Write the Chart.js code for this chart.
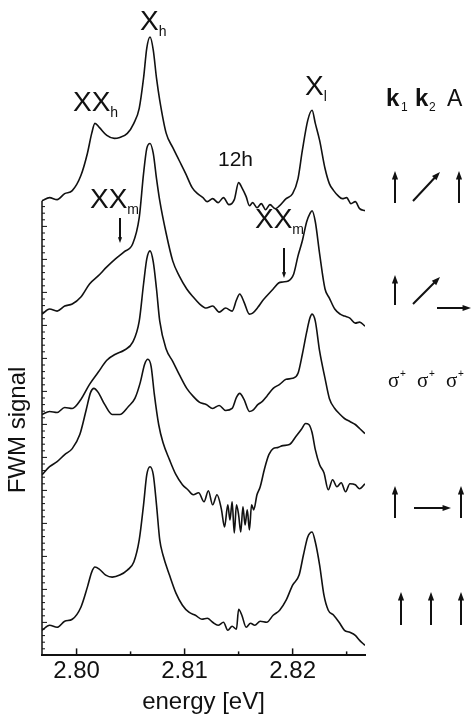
<!DOCTYPE html>
<html>
<head>
<meta charset="utf-8">
<script src="https://cdn.jsdelivr.net/npm/chart.js@4.4.0/dist/chart.umd.min.js"></script>
<style>
  html, body { margin: 0; padding: 0; background: #fff; }
  #wrap { width: 474px; height: 717px; position: relative; }
</style>
</head>
<body>
<div id="wrap"><canvas id="fwm"></canvas></div>
<script>
// energy axis [eV] and tick labels
var xTicks = [2.80, 2.81, 2.82];

// spectra, top to bottom (offset traces, arbitrary units)
var eTop = [2.7968,2.7975,2.7982,2.7989,2.7996,2.8004,2.8010,2.8014,2.8017,2.8021,2.8028,2.8035,2.8040,2.8047,2.8053,2.8058,2.8062,2.8065,2.8068,2.8071,2.8074,2.8077,2.8083,2.8089,2.8095,2.8101,2.8107,2.8112,2.8117,2.8121,2.8126,2.8131,2.8136,2.8141,2.8146,2.8150,2.8153,2.8157,2.8160,2.8163,2.8167,2.8171,2.8175,2.8179,2.8184,2.8188,2.8194,2.8200,2.8205,2.8209,2.8214,2.8218,2.8221,2.8225,2.8230,2.8234,2.8238,2.8242,2.8246,2.8250,2.8254,2.8258,2.8262,2.8267];
var sTop = [453,456,454,460,463,478,500,520,530,526,518,515,516,520,530,545,575,605,616,603,575,553,520,506,493,480,466,460,456,452,455,451,456,449,454,471,466,457,448,451,446,450,444,449,445,448,455,460,475,503,533,543,530,513,485,470,463,458,455,456,450,452,445,443];

var eM = [2.7968,2.7975,2.7982,2.7989,2.7996,2.8004,2.8012,2.8020,2.8028,2.8036,2.8044,2.8052,2.8058,2.8062,2.8065,2.8068,2.8071,2.8074,2.8077,2.8083,2.8089,2.8095,2.8102,2.8108,2.8114,2.8120,2.8126,2.8132,2.8138,2.8144,2.8148,2.8151,2.8155,2.8160,2.8163,2.8168,2.8172,2.8176,2.8182,2.8187,2.8191,2.8196,2.8201,2.8205,2.8209,2.8213,2.8216,2.8218,2.8221,2.8225,2.8230,2.8234,2.8239,2.8244,2.8248,2.8253,2.8258,2.8262,2.8267];
var sM = [340,345,343,348,350,357,370,378,387,395,402,410,436,480,505,510,500,475,453,420,393,378,365,357,350,346,348,342,346,343,354,360,352,340,341,347,353,358,365,371,372,373,380,398,413,432,440,443,432,400,365,356,345,340,338,336,331,332,328];

var eS = [2.7968,2.7975,2.7982,2.7989,2.7996,2.8004,2.8012,2.8020,2.8028,2.8036,2.8044,2.8052,2.8058,2.8062,2.8065,2.8068,2.8071,2.8074,2.8077,2.8083,2.8089,2.8095,2.8102,2.8108,2.8114,2.8120,2.8126,2.8132,2.8138,2.8144,2.8148,2.8151,2.8155,2.8160,2.8163,2.8168,2.8172,2.8176,2.8182,2.8188,2.8194,2.8200,2.8205,2.8209,2.8213,2.8216,2.8218,2.8221,2.8225,2.8230,2.8234,2.8239,2.8244,2.8248,2.8253,2.8258,2.8262,2.8267];
var sS = [240,243,242,247,246,255,270,282,294,300,304,312,333,370,395,403,392,365,333,305,293,280,266,258,252,250,246,249,244,246,257,261,255,243,244,250,253,258,266,270,275,276,281,300,322,336,340,333,303,276,256,246,240,236,233,230,226,221];

var eC = [2.7968,2.7975,2.7982,2.7989,2.7996,2.8003,2.8009,2.8013,2.8016,2.8020,2.8026,2.8033,2.8040,2.8048,2.8054,2.8059,2.8063,2.8066,2.8069,2.8072,2.8076,2.8080,2.8086,2.8092,2.8098,2.8103,2.8108,2.8113,2.8118,2.8122,2.8126,2.8130,2.8134,2.8137,2.8140,2.8142,2.8144,2.8146,2.8148,2.8150,2.8152,2.8154,2.8156,2.8158,2.8160,2.8162,2.8164,2.8167,2.8170,2.8174,2.8178,2.8182,2.8186,2.8191,2.8197,2.8203,2.8208,2.8212,2.8215,2.8218,2.8221,2.8225,2.8229,2.8233,2.8237,2.8241,2.8245,2.8249,2.8253,2.8258,2.8262,2.8267];
var sC = [180,188,193,200,206,220,245,262,266,262,250,240,240,248,256,272,290,295,288,260,230,212,195,180,170,165,160,162,153,164,150,160,146,128,150,135,153,122,150,140,123,148,130,145,125,150,145,160,168,186,200,206,207,209,210,218,225,231,230,222,205,190,182,165,175,168,172,163,171,170,166,171];

var eB = [2.7968,2.7975,2.7982,2.7989,2.7996,2.8004,2.8010,2.8014,2.8017,2.8021,2.8027,2.8033,2.8040,2.8047,2.8053,2.8058,2.8062,2.8065,2.8068,2.8071,2.8074,2.8077,2.8080,2.8086,2.8092,2.8098,2.8104,2.8110,2.8116,2.8121,2.8126,2.8131,2.8136,2.8140,2.8144,2.8148,2.8150,2.8153,2.8157,2.8161,2.8165,2.8170,2.8176,2.8182,2.8188,2.8194,2.8200,2.8206,2.8210,2.8214,2.8218,2.8221,2.8225,2.8229,2.8233,2.8238,2.8243,2.8248,2.8253,2.8258,2.8262,2.8267];
var sB = [25,30,28,34,36,48,68,83,88,86,80,78,80,85,93,115,150,180,188,180,150,115,100,80,62,50,43,40,36,37,33,30,33,25,29,26,46,40,28,32,30,34,33,40,45,55,70,80,100,118,123,113,90,60,45,40,33,25,23,20,15,10];

var traces = [[eTop, sTop], [eM, sM], [eS, sS], [eC, sC], [eB, sB]];

function points(e, s) {
    return e.map(function(x, i) { return { x: x, y: s[i] }; });
}

// labels, arrows and the custom left axis
var decor = {
    id: 'decor',
    afterDraw: function(chart) {
        var c = chart.ctx, xs = chart.scales.x, ys = chart.scales.y;
        var area = chart.chartArea;
        c.save();
        c.strokeStyle = '#111';
        c.fillStyle = '#111';
        c.lineWidth = 1.5;

        // left axis only below the top trace
        var yTop = ys.getPixelForValue(453);
        c.beginPath();
        c.moveTo(area.left, yTop);
        c.lineTo(area.left, area.bottom);
        c.stroke();
        c.lineWidth = 1;
        for (var k = 0, py = area.bottom; py > yTop; py -= 6.6, k++) {
            c.beginPath();
            c.moveTo(area.left, py);
            c.lineTo(area.left + (k % 5 === 0 ? 5 : 3), py);
            c.stroke();
        }
        // x ticks pointing inward
        c.lineWidth = 1.5;
        [2.80, 2.805, 2.81, 2.815, 2.82, 2.825].forEach(function(v, i) {
            var px = xs.getPixelForValue(v);
            c.beginPath();
            c.moveTo(px, area.bottom);
            c.lineTo(px, area.bottom - (i % 2 === 0 ? 7 : 4));
            c.stroke();
        });

        function sub(txt, s, x, y, size) {
            c.font = size + 'px "Liberation Sans", Arial, sans-serif';
            c.textBaseline = 'alphabetic';
            c.fillText(txt, x, y);
            var w = c.measureText(txt).width;
            c.font = Math.round(size * 0.5) + 'px "Liberation Sans", Arial, sans-serif';
            c.fillText(s, x + w, y + size * 0.22);
        }
        function arrow(x1, y1, x2, y2, head) {
            var a = Math.atan2(y2 - y1, x2 - x1);
            c.lineWidth = 2;
            c.beginPath();
            c.moveTo(x1, y1);
            c.lineTo(x2 - Math.cos(a) * head * 0.6, y2 - Math.sin(a) * head * 0.6);
            c.stroke();
            c.beginPath();
            c.moveTo(x2, y2);
            c.lineTo(x2 - head * Math.cos(a - 0.35), y2 - head * Math.sin(a - 0.35));
            c.lineTo(x2 - head * Math.cos(a + 0.35), y2 - head * Math.sin(a + 0.35));
            c.closePath();
            c.fill();
        }

        sub('XX', 'h', 73, 111, 28);
        sub('X', 'h', 140, 30, 28);
        sub('X', 'l', 305, 95, 28);
        c.font = '21px "Liberation Sans", Arial, sans-serif';
        c.fillText('12h', 218, 166);
        sub('XX', 'm', 90, 208, 28);
        sub('XX', 'm', 255, 228, 28);
        c.lineWidth = 1;
        arrow(120, 218, 120, 243, 6);
        arrow(284, 248, 284, 278, 6);

        // polarisation configurations
        c.font = 'bold 24px "Liberation Sans", Arial, sans-serif';
        c.fillText('k', 386, 106);
        c.fillText('k', 415, 106);
        c.font = '12px "Liberation Sans", Arial, sans-serif';
        c.fillText('1', 401, 111);
        c.fillText('2', 429, 111);
        c.font = '23px "Liberation Sans", Arial, sans-serif';
        c.fillText('A', 447, 106);

        arrow(395, 203, 395, 171, 9);
        arrow(413, 201, 440, 172, 9);
        arrow(459, 203, 459, 171, 9);

        arrow(395, 305, 395, 275, 9);
        arrow(413, 304, 440, 277, 9);
        arrow(437, 308, 471, 308, 9);

        ['σ', 'σ', 'σ'].forEach(function(t, i) {
            var x = 388 + i * 29;
            c.font = '21px "Liberation Serif", serif';
            c.fillText(t, x, 387);
            c.font = '10px "Liberation Sans", sans-serif';
            c.fillText('+', x + 12, 377);
        });

        arrow(395, 518, 395, 486, 9);
        arrow(414, 508, 451, 508, 9);
        arrow(461, 518, 461, 486, 9);

        arrow(401, 625, 401, 592, 9);
        arrow(431, 625, 431, 592, 9);
        arrow(461, 625, 461, 592, 9);

        // y title
        c.translate(17, 430);
        c.rotate(-Math.PI / 2);
        c.font = '24px "Liberation Sans", Arial, sans-serif';
        c.textAlign = 'center';
        c.fillText('FWM signal', 0, 8);
        c.restore();
    }
};

new Chart(document.getElementById('fwm'), {
    type: 'line',
    data: {
        datasets: traces.map(function(t) {
            return {
                data: points(t[0], t[1]),
                borderColor: '#111',
                borderWidth: 1.6,
                pointRadius: 0,
                fill: false,
                cubicInterpolationMode: 'monotone'
            };
        })
    },
    options: {
        responsive: true,
        maintainAspectRatio: false,
        animation: false,
        layout: { padding: { left: 42, right: 109, top: 30, bottom: 0 } },
        plugins: { legend: { display: false }, tooltip: { enabled: false } },
        scales: {
            x: {
                type: 'linear',
                min: 2.7968,
                max: 2.8267,
                border: { color: '#111', width: 2 },
                grid: { display: false, tickLength: 0 },
                afterBuildTicks: function(scale) {
                    scale.ticks = xTicks.map(function(v) { return { value: v }; });
                },
                ticks: {
                    color: '#111',
                    padding: 2,
                    font: { family: '"Liberation Sans", Arial, sans-serif', size: 24 },
                    callback: function(v) { return v.toFixed(2); }
                },
                title: {
                    display: true,
                    text: 'energy [eV]',
                    color: '#111',
                    padding: { top: 0, bottom: 0 },
                    font: { family: '"Liberation Sans", Arial, sans-serif', size: 24 }
                }
            },
            y: { display: false, min: 0, max: 623 }
        }
    },
    plugins: [decor]
});
</script>
</body>
</html>
